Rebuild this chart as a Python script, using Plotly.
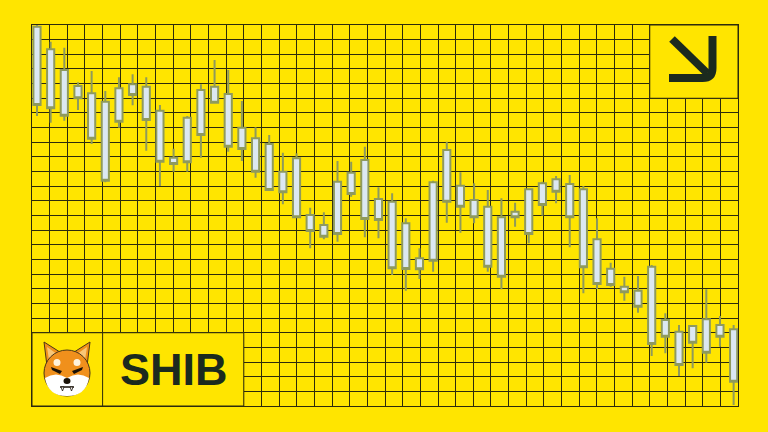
import plotly.graph_objects as go

# ---- data (price in grid-row units) ----
idx = list(range(52))
open_ = [25.88, 24.34, 22.93, 21.84, 21.34, 20.77, 21.68, 21.95, 21.79, 20.15,
         16.94, 19.67, 21.56, 21.79, 21.29, 18.99, 18.27, 17.88, 15.99, 16.90,
         13.03, 12.35, 15.31, 15.92, 16.79, 14.13, 13.94, 12.47, 10.08, 15.27,
         17.47, 15.03, 14.06, 13.60, 12.88, 13.26, 14.79, 15.20, 15.47, 15.15,
         14.79, 11.38, 9.37, 8.14, 7.87, 9.51, 5.87, 5.07, 5.46, 5.92,
         5.53, 5.23]
close = [20.54, 20.32, 19.81, 21.00, 18.24, 15.37, 19.40, 21.22, 19.52, 16.67,
         16.51, 16.63, 18.49, 20.70, 17.70, 17.54, 15.99, 14.74, 14.58, 12.88,
         11.94, 11.55, 11.74, 14.47, 12.76, 12.69, 9.40, 9.35, 9.33, 9.92,
         13.94, 13.60, 12.88, 9.51, 8.82, 12.88, 11.74, 13.72, 14.62, 12.88,
         9.47, 8.33, 8.26, 7.76, 6.78, 4.23, 4.73, 2.80, 4.32, 3.64,
         4.73, 1.66]
high = [26.00, 24.86, 24.45, 22.09, 22.86, 21.50, 22.43, 22.64, 22.43, 20.54,
        17.56, 19.79, 21.95, 23.61, 22.93, 20.81, 19.02, 18.49, 17.29, 17.24,
        13.53, 13.22, 16.72, 16.67, 17.70, 14.92, 14.51, 12.81, 10.76, 15.37,
        18.04, 15.95, 15.20, 14.74, 14.17, 13.87, 14.79, 15.31, 15.70, 15.76,
        15.01, 12.81, 9.78, 8.82, 8.87, 9.62, 6.33, 5.53, 5.46, 7.96,
        6.14, 5.53]
low = [19.79, 19.33, 19.47, 20.20, 17.88, 15.27, 18.99, 20.52, 17.42, 15.01,
       15.99, 15.99, 16.94, 20.68, 17.35, 16.72, 15.58, 14.67, 13.76, 12.83,
       10.76, 11.38, 11.21, 14.28, 11.51, 11.44, 8.94, 7.87, 8.67, 9.16,
       12.51, 11.83, 12.47, 9.16, 7.96, 12.24, 11.10, 12.99, 13.83, 10.83,
       7.69, 7.98, 8.14, 7.19, 6.37, 3.41, 3.60, 2.05, 2.57, 2.95,
       4.05, 0.07]
label = "SHIB"

# ---- style ----
BG = "#FFE500"
GRID = "#2c2a0c"
BODY = "#dce8f2"
EDGE = "#8f9a5c"
DARK = "#1b2a1e"

W, H = 768, 432
L, R, T, B = 32, 30, 25, 26
PW, PH = W - L - R, H - T - B


def px(x):
    return (x - L) / PW


def py(y):
    return (H - B - y) / PH


fig = go.Figure()
style = dict(line=dict(color=EDGE, width=2), fillcolor=BODY)
fig.add_trace(go.Candlestick(
    x=idx, open=open_, high=high, low=low, close=close,
    increasing=style, decreasing=style, whiskerwidth=0,
    hoverinfo="skip", showlegend=False,
))

shapes = []
# bottom-left logo box and top-right arrow box (cover grid)
shapes.append(dict(type="rect", xref="paper", yref="paper", x0=0, x1=12 / 40, y0=0, y1=5 / 26,
                   fillcolor=BG, line=dict(color=GRID, width=1), layer="above"))
shapes.append(dict(type="line", xref="paper", yref="paper", x0=4 / 40, x1=4 / 40, y0=0, y1=5 / 26,
                   line=dict(color=GRID, width=1), layer="above"))
shapes.append(dict(type="rect", xref="paper", yref="paper", x0=35 / 40, x1=1, y0=21 / 26, y1=1,
                   fillcolor=BG, line=dict(color=GRID, width=1), layer="above"))

# arrow (down-right)
arrow = (f"M {px(712.5)},{py(36)} L {px(712.5)},{py(68)} "
         f"Q {px(712.5)},{py(78)} {px(702.5)},{py(78)} L {px(669)},{py(78)}")
shapes.append(dict(type="path", xref="paper", yref="paper", path=arrow,
                   line=dict(color=DARK, width=8), layer="above"))
shapes.append(dict(type="line", xref="paper", yref="paper",
                   x0=px(672), y0=py(39), x1=px(707), y1=py(73),
                   line=dict(color=DARK, width=8), layer="above"))

# shiba icon
ORANGE = "#F0901C"
OUT = "#4a3418"


def poly(pts, fill, lw=1, lc=OUT):
    p = "M " + " L ".join(f"{px(a)},{py(b)}" for a, b in pts) + " Z"
    return dict(type="path", xref="paper", yref="paper", path=p, fillcolor=fill,
                line=dict(color=lc, width=lw), layer="above")


shapes.append(poly([(44, 342), (63, 354), (47, 366)], ORANGE))
shapes.append(poly([(90, 342), (71, 354), (87, 366)], ORANGE))
shapes.append(poly([(47, 347), (57, 354), (49, 360)], "#F8C777", lw=0))
shapes.append(poly([(87, 347), (77, 354), (85, 360)], "#F8C777", lw=0))
shapes.append(dict(type="circle", xref="paper", yref="paper",
                   x0=px(44), x1=px(90), y0=py(396), y1=py(350),
                   fillcolor=ORANGE, line=dict(color=OUT, width=1), layer="above"))
# white lower face
shapes.append(dict(type="path", xref="paper", yref="paper",
                   path=(f"M {px(45)},{py(378)} Q {px(56)},{py(371)} {px(67)},{py(378)} "
                         f"Q {px(78)},{py(371)} {px(89)},{py(378)} "
                         f"Q {px(86)},{py(396)} {px(67)},{py(396)} "
                         f"Q {px(48)},{py(396)} {px(45)},{py(378)} Z"),
                   fillcolor="#FFFFFF", line=dict(width=0), layer="above"))
# eyebrows
for cx in (57, 77):
    shapes.append(dict(type="circle", xref="paper", yref="paper",
                       x0=px(cx - 3.5), x1=px(cx + 3.5), y0=py(366), y1=py(359),
                       fillcolor="#FFF3DC", line=dict(width=0), layer="above"))
# eyes
shapes.append(poly([(51, 367), (62, 371), (60, 374), (52, 370)], "#1a1208", lw=0))
shapes.append(poly([(83, 367), (72, 371), (74, 374), (82, 370)], "#1a1208", lw=0))
# nose
shapes.append(dict(type="circle", xref="paper", yref="paper",
                   x0=px(63.5), x1=px(70.5), y0=py(384), y1=py(378),
                   fillcolor="#1a1208", line=dict(width=0), layer="above"))
# mouth
shapes.append(dict(type="path", xref="paper", yref="paper",
                   path=f"M {px(60)},{py(387)} L {px(74)},{py(387)}",
                   line=dict(color="#1a1208", width=1.5), layer="above"))
shapes.append(poly([(61, 387), (62.5, 391), (64, 387)], "#FFFFFF", lw=0.8, lc="#1a1208"))
shapes.append(poly([(70, 387), (71.5, 391), (73, 387)], "#FFFFFF", lw=0.8, lc="#1a1208"))

fig.update_layout(
    width=W, height=H,
    margin=dict(l=L, r=R, t=T, b=B),
    paper_bgcolor=BG, plot_bgcolor=BG,
    shapes=shapes,
    showlegend=False,
    boxgap=0.25,
    annotations=[dict(text=f"<b>{label}</b>", xref="paper", yref="paper",
                      x=px(173.5), y=py(369), xanchor="center", yanchor="middle",
                      showarrow=False,
                      font=dict(family="Liberation Sans, Arial, sans-serif", size=45, color=DARK))],
)
fig.update_xaxes(range=[-0.366, 51.32], tick0=-0.366, dtick=17.667 / 13.67,
                 showgrid=True, gridcolor=GRID, gridwidth=1,
                 showline=True, linecolor=GRID, linewidth=1, mirror=True,
                 showticklabels=False, ticks="", zeroline=False,
                 rangeslider=dict(visible=False), fixedrange=True)
fig.update_yaxes(range=[0, 26], tick0=0, dtick=1,
                 showgrid=True, gridcolor=GRID, gridwidth=1,
                 showline=True, linecolor=GRID, linewidth=1, mirror=True,
                 showticklabels=False, ticks="", zeroline=False, fixedrange=True)

fig.write_html(
    "out.html",
    config={"displayModeBar": False},
    post_script=("document.body.style.margin='0';"
                 "document.body.style.padding='0';"
                 f"document.body.style.background='{BG}';"
                 "document.body.style.overflow='hidden';"),
)
